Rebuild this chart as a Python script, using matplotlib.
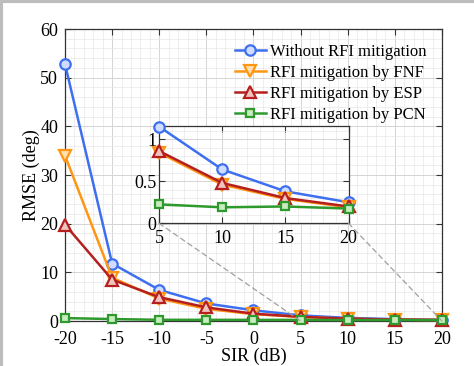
import numpy as np
import matplotlib.pyplot as plt
from matplotlib.ticker import MultipleLocator
from matplotlib.lines import Line2D
from matplotlib.patches import ConnectionPatch

# SIR (dB)
sir = [-20, -15, -10, -5, 0, 5, 10, 15, 20]

# RMSE (deg)
rmse_none = [52.8, 11.8, 6.4, 3.6, 2.2, 1.15, 0.64, 0.38, 0.25]
rmse_fnf = [34.0, 8.9, 4.6, 2.5, 1.4, 0.84, 0.46, 0.29, 0.19]
rmse_esp = [19.8, 8.5, 4.9, 2.8, 1.5, 0.86, 0.48, 0.30, 0.20]
rmse_pcn = [0.6, 0.4, 0.25, 0.24, 0.23, 0.225, 0.19, 0.20, 0.175]

labels = ["Without RFI mitigation", "RFI mitigation by FNF",
          "RFI mitigation by ESP", "RFI mitigation by PCN"]

plt.rcParams["font.family"] = ["Liberation Serif", "DejaVu Serif"]
plt.rcParams["font.size"] = 13
plt.rcParams["axes.unicode_minus"] = False

styles = [
    dict(color="#3d6ff0", marker="o", mfc="#cfdcff", ms=7.5),
    dict(color="#ff9612", marker="v", mfc="#ffe0b0", ms=8),
    dict(color="#b5201e", marker="^", mfc="#f2c4c0", ms=8),
    dict(color="#2e9a2e", marker="s", mfc="#c8ecc0", ms=6),
]
series = [rmse_none, rmse_fnf, rmse_esp, rmse_pcn]


def style_axes(ax):
    ax.grid(which="major", color="#d4d4d4", linewidth=0.7)
    ax.grid(which="minor", color="#e8e8e8", linewidth=0.5)
    ax.tick_params(which="both", direction="in", top=True, right=True)
    ax.tick_params(which="minor", length=0)
    ax.tick_params(which="major", length=4, width=0.8, color="#333333")
    ax.set_axisbelow(True)
    for s in ax.spines.values():
        s.set_color("#333333")
        s.set_linewidth(0.9)


fig = plt.figure(figsize=(4.74, 3.66), dpi=100)
ax = fig.add_axes([65 / 474, 1 - 321 / 366, 377 / 474, 292 / 366])

for y, st, lab in zip(series, styles, labels):
    ax.plot(sir, y, lw=1.8, mew=1.6, label=lab, clip_on=False, zorder=3, **st)

ax.set_xlim(-20, 20)
ax.set_ylim(0, 60)
ax.xaxis.set_major_locator(MultipleLocator(5))
ax.xaxis.set_minor_locator(MultipleLocator(1))
ax.yaxis.set_major_locator(MultipleLocator(10))
ax.yaxis.set_minor_locator(MultipleLocator(2))
style_axes(ax)
ax.tick_params(axis="x", pad=7)
ax.tick_params(axis="y", pad=5)
ax.set_xlabel("SIR (dB)", labelpad=0)
ax.set_ylabel("RMSE (deg)", labelpad=0)

leg = ax.legend(loc="upper right", frameon=False, handlelength=1.9,
                handletextpad=0.25, labelspacing=0.3,
                borderaxespad=0.5, fontsize=12)

# zoomed inset
axi = fig.add_axes([159 / 474, 1 - 223.3 / 366, 189.5 / 474, 97.6 / 366])
for y, st in zip(series, styles):
    axi.plot(sir[5:], y[5:], lw=1.8, mew=1.6, clip_on=False, zorder=3, **st)
axi.set_xlim(5, 20)
axi.set_ylim(0, 1.16)
axi.xaxis.set_major_locator(MultipleLocator(5))
axi.xaxis.set_minor_locator(MultipleLocator(1))
axi.yaxis.set_minor_locator(MultipleLocator(0.1))
axi.set_yticks([0, 0.5, 1])
axi.set_yticklabels(["0", "0.5", "1"])
style_axes(axi)
axi.tick_params(axis="y", pad=2)
axi.tick_params(axis="x", pad=5)
axi.set_facecolor("white")

for xv in (5, 20):
    cp = ConnectionPatch(xyA=(xv, 0), coordsA=axi.transData,
                         xyB=(xv, 0), coordsB=ax.transData,
                         color="#a0a0a0", lw=0.9, ls=(0, (4, 3)), zorder=1)
    fig.add_artist(cp)

# gray frame on top/left edges
fig.add_artist(Line2D([0, 1], [0.997, 0.997], transform=fig.transFigure,
                      color="#bdbdbd", lw=3))
fig.add_artist(Line2D([0.003, 0.003], [0, 1], transform=fig.transFigure,
                      color="#bdbdbd", lw=3))

fig.savefig("out.png", dpi=100)
